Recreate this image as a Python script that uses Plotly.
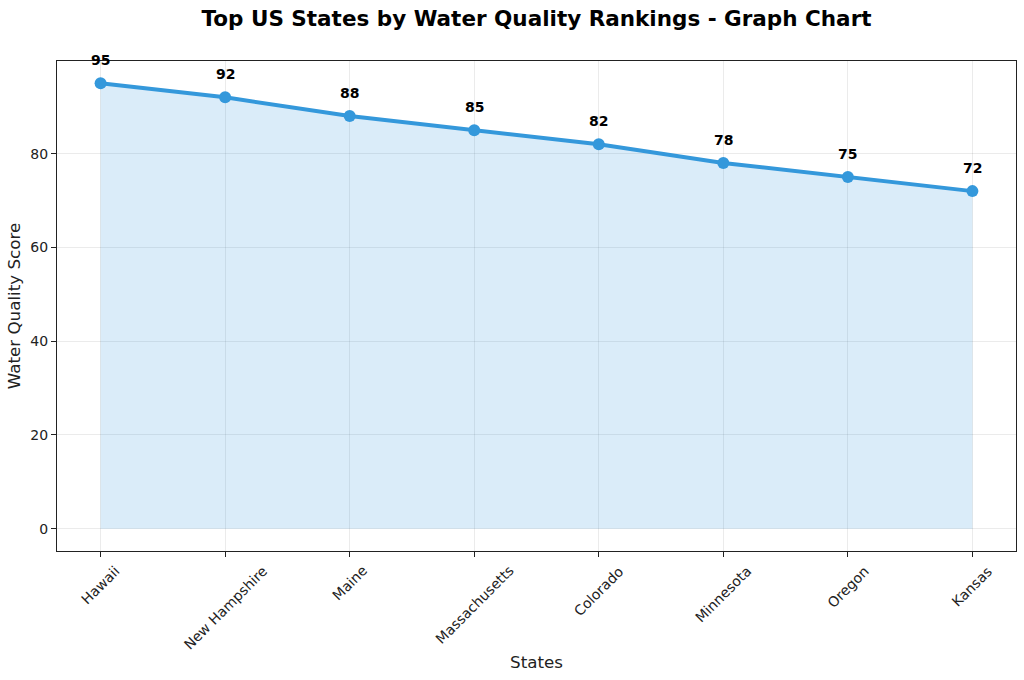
import plotly.graph_objects as go

states = ["Hawaii", "New Hampshire", "Maine", "Massachusetts", "Colorado", "Minnesota", "Oregon", "Kansas"]
scores = [95, 92, 88, 85, 82, 78, 75, 72]

color = "#3498db"
font = "DejaVu Sans"

fig = go.Figure()
fig.add_trace(go.Scatter(
    x=list(range(len(states))), y=scores,
    mode="lines+markers",
    line=dict(color=color, width=4),
    marker=dict(color=color, size=12),
    fill="tozeroy", fillcolor="rgba(52,152,219,0.18)",
    showlegend=False, hoverinfo="skip",
))

for i, v in enumerate(scores):
    fig.add_annotation(x=i, y=v, text=f"<b>{v}</b>", showarrow=False,
                       yshift=23, font=dict(family=font, size=14, color="black"))

# rotated category labels, centred under each tick (matplotlib style)
for i, s in enumerate(states):
    fig.add_annotation(x=i, xref="x", y=0, yref="paper", text=s, showarrow=False,
                       textangle=-45, xanchor="center", yanchor="top", yshift=-9,
                       font=dict(family=font, size=14, color="#222"))

fig.update_layout(
    width=1024, height=680,
    margin=dict(l=57, r=8, t=61, b=129),
    paper_bgcolor="white", plot_bgcolor="white",
    font=dict(family=font, size=14, color="#222"),
    title=dict(text="<b>Top US States by Water Quality Rankings - Graph Chart</b>",
               xref="paper", x=0.5, xanchor="center", y=0.973, yanchor="middle",
               font=dict(family=font, size=21.5, color="black")),
)
fig.update_xaxes(
    range=[-0.35, 7.35], tickmode="array", tickvals=list(range(len(states))),
    showticklabels=False,
    ticks="outside", ticklen=5, tickcolor="#222",
    showline=True, linecolor="#222", linewidth=1, mirror=True,
    showgrid=True, gridcolor="rgba(0,0,0,0.08)", zeroline=False,
    title=dict(text="States", font=dict(family=font, size=16.7, color="#222"), standoff=100),
    automargin=False,
)
fig.update_yaxes(
    range=[-4.75, 99.75], tickvals=[0, 20, 40, 60, 80],
    ticks="outside", ticklen=5, tickcolor="#222",
    showline=True, linecolor="#222", linewidth=1, mirror=True,
    showgrid=True, gridcolor="rgba(0,0,0,0.08)", zeroline=False,
    title=dict(text="Water Quality Score", font=dict(family=font, size=16.7, color="#222"), standoff=5),
    tickfont=dict(family=font, size=14, color="#222"),
    automargin=False,
)

fig.write_html("out.html")
